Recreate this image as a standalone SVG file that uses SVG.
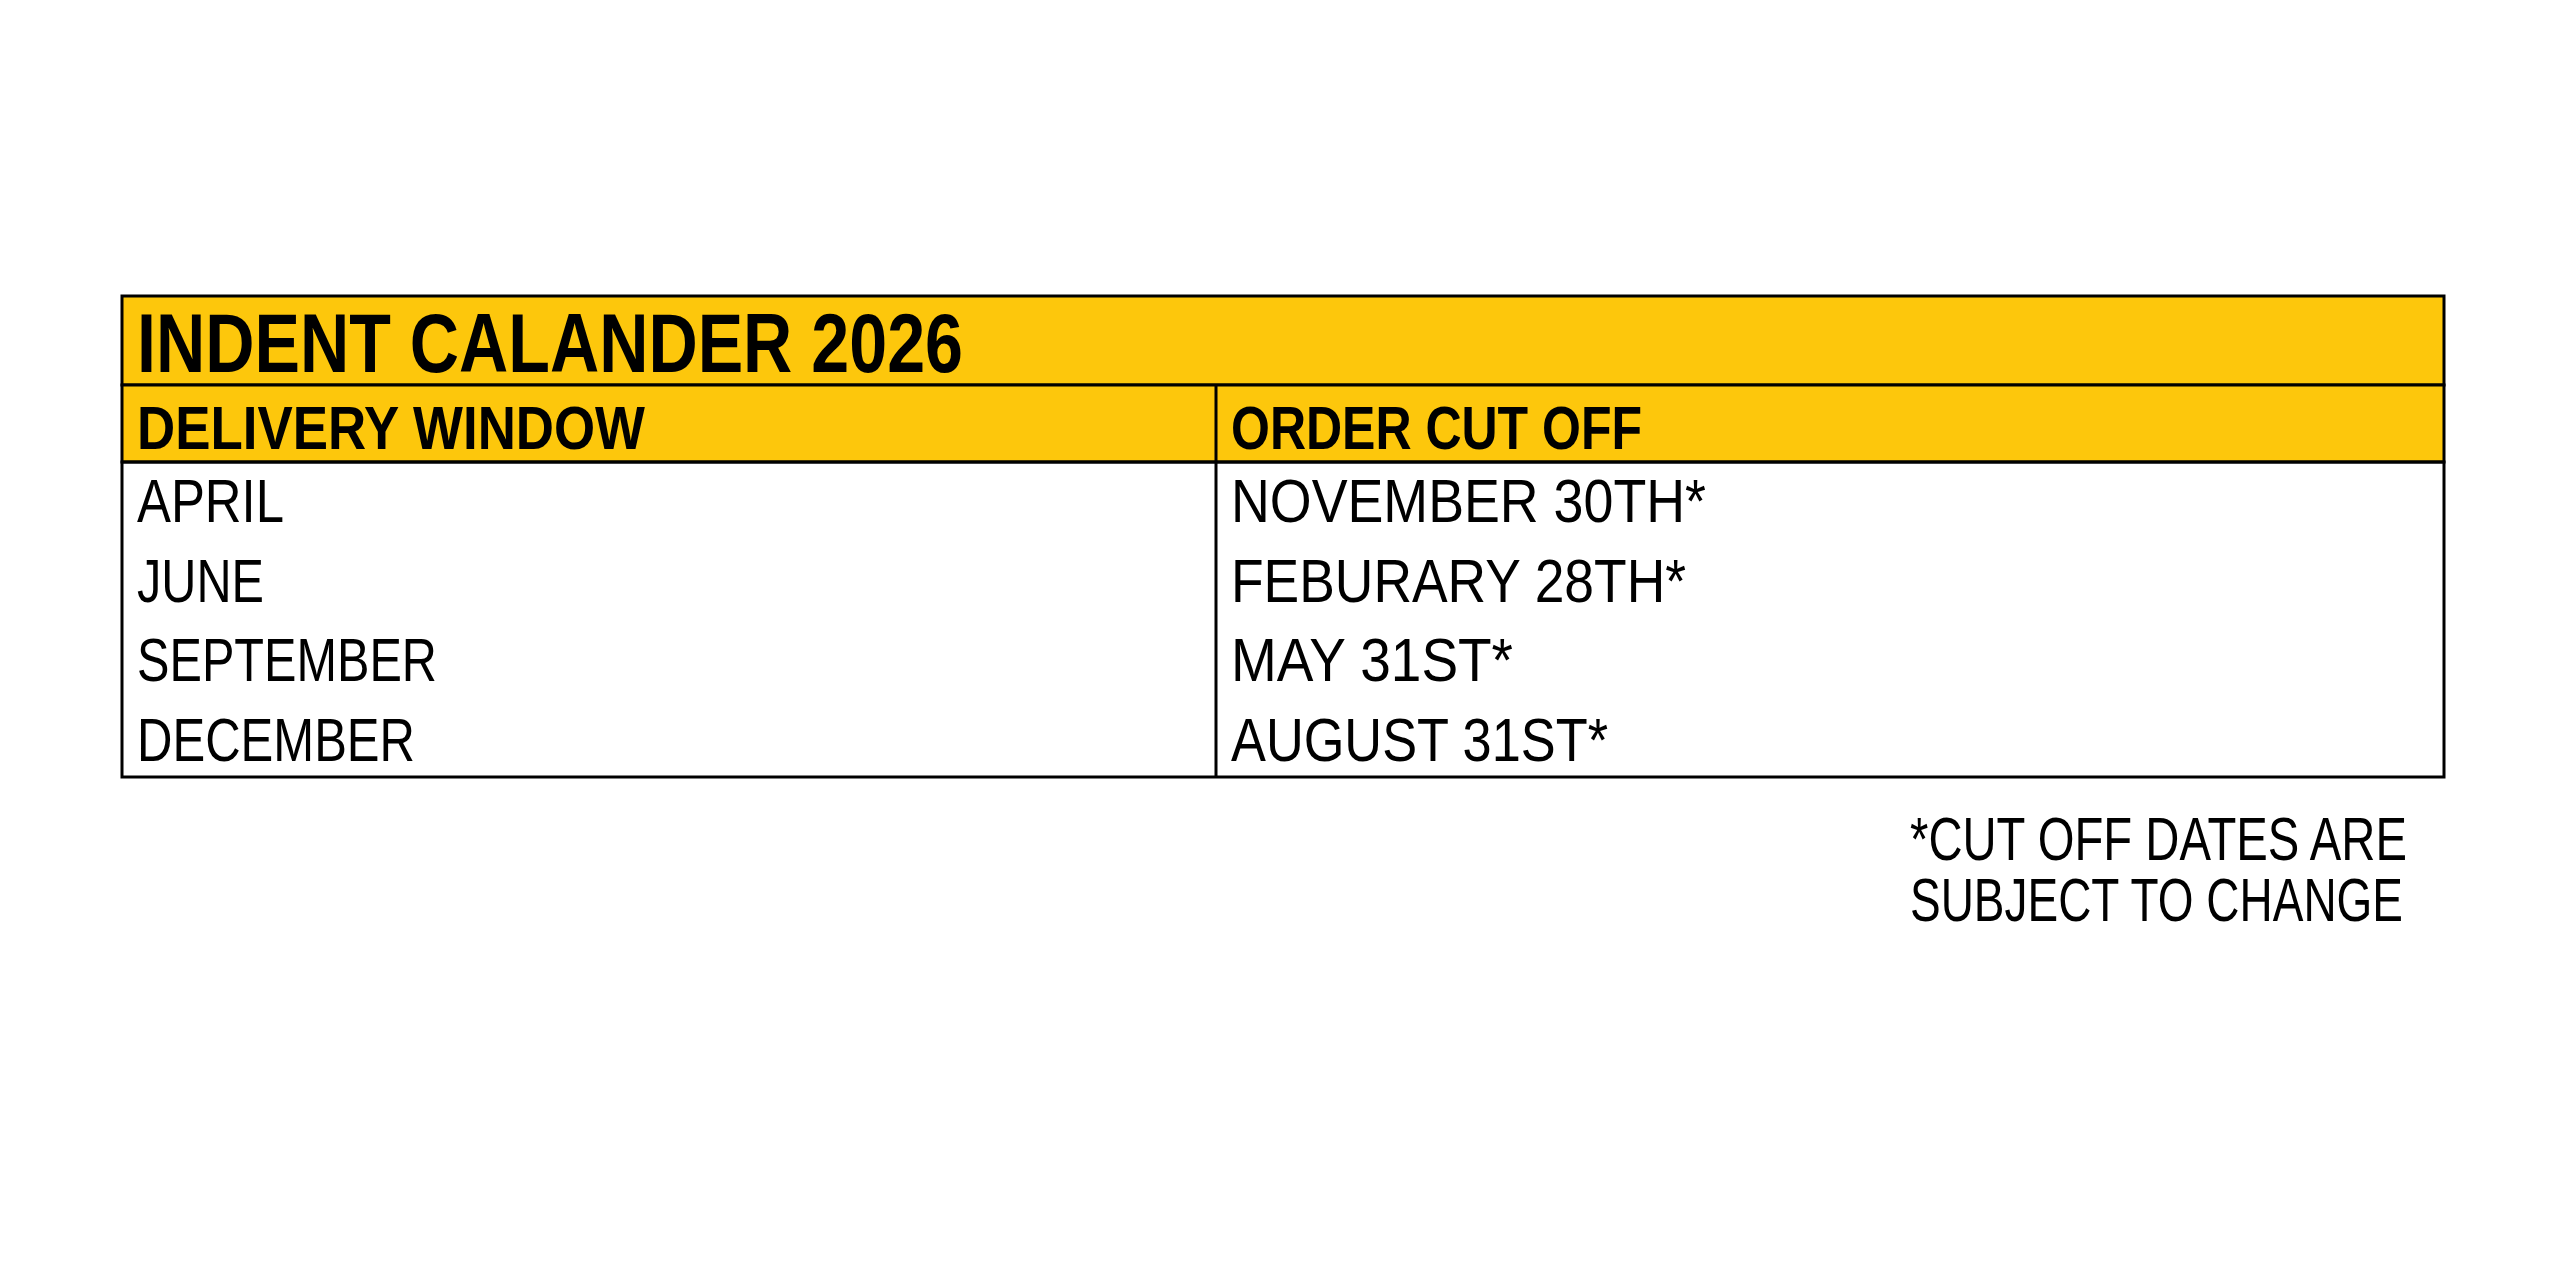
<svg xmlns="http://www.w3.org/2000/svg" width="2560" height="1280" viewBox="0 0 2560 1280">
<style>
.hd{fill:#FDC70C;stroke:#000;stroke-width:3}
.ln{stroke:#000;stroke-width:3;fill:none}
text{font-family:"Liberation Sans",Arial,sans-serif;fill:#000}
.b{font-weight:bold}
.t{font-size:84px}
.s{font-size:62px}
.r{font-size:62px}
</style>
<rect width="2560" height="1280" fill="#fff"/>
<g id="title">
<rect class="hd" x="122" y="296" width="2322" height="89"/>
<text class="b t" x="137" y="372" textLength="826" lengthAdjust="spacingAndGlyphs">INDENT CALANDER 2026</text>
</g>
<g id="header">
<rect class="hd" x="122" y="385" width="2322" height="77"/>
<text class="b s" x="137" y="449" textLength="508" lengthAdjust="spacingAndGlyphs">DELIVERY WINDOW</text>
<text class="b s" x="1231" y="449" textLength="411" lengthAdjust="spacingAndGlyphs">ORDER CUT OFF</text>
</g>
<g id="body">
<rect class="ln" x="122" y="462" width="2322" height="315"/>
<text class="r" x="137" y="522" textLength="147" lengthAdjust="spacingAndGlyphs">APRIL</text>
<text class="r" x="137" y="602" textLength="127" lengthAdjust="spacingAndGlyphs">JUNE</text>
<text class="r" x="137" y="681" textLength="300" lengthAdjust="spacingAndGlyphs">SEPTEMBER</text>
<text class="r" x="137" y="761" textLength="278" lengthAdjust="spacingAndGlyphs">DECEMBER</text>
<text class="r" x="1231" y="522" textLength="475" lengthAdjust="spacingAndGlyphs">NOVEMBER 30TH*</text>
<text class="r" x="1231" y="602" textLength="455" lengthAdjust="spacingAndGlyphs">FEBURARY 28TH*</text>
<text class="r" x="1231" y="681" textLength="282" lengthAdjust="spacingAndGlyphs">MAY 31ST*</text>
<text class="r" x="1231" y="761" textLength="377" lengthAdjust="spacingAndGlyphs">AUGUST 31ST*</text>
</g>
<g id="lines">
<line class="ln" x1="1216" y1="385" x2="1216" y2="777"/>
</g>
<g id="note">
<text class="r" x="1910" y="860" textLength="497" lengthAdjust="spacingAndGlyphs">*CUT OFF DATES ARE</text>
<text class="r" x="1910" y="921" textLength="493" lengthAdjust="spacingAndGlyphs">SUBJECT TO CHANGE</text>
</g>
</svg>
